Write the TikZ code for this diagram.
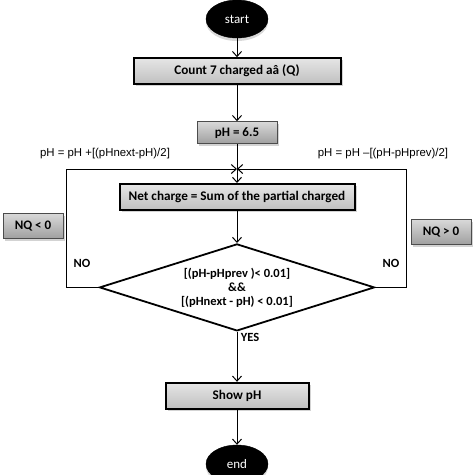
\documentclass[tikz,border=0pt]{standalone}
\usepackage{fontspec}
\setmainfont{Carlito}
\newfontfamily\arialfont{Liberation Sans}
\usetikzlibrary{shapes,arrows,arrows.meta,positioning,calc,shadows}

\begin{document}
\begin{tikzpicture}[
        x=1pt, y=-1pt,
        node distance=20pt,
        term/.style={draw=black, ellipse, fill=black, text=white, minimum width=62pt, minimum height=38pt, inner sep=0pt, font=\fontsize{13}{15}\selectfont, drop shadow={opacity=0.3, shadow xshift=0pt, shadow yshift=-3pt}},
        procbox/.style={draw=black, line width=2pt, top color=gray!20, bottom color=gray!50, minimum height=26pt, inner sep=0pt, font=\bfseries\fontsize{13.2}{15}\selectfont, drop shadow={opacity=0.35, shadow xshift=2pt, shadow yshift=-2pt}},
        valbox/.style={draw=black!70, line width=0.8pt, top color=gray!30, bottom color=gray!75, minimum height=22pt, inner sep=0pt, font=\bfseries\fontsize{13}{15}\selectfont, drop shadow={opacity=0.35, shadow xshift=2pt, shadow yshift=-2pt}},
        test/.style={draw, diamond, aspect=3.2, line width=1.8pt, fill=white, minimum width=275pt, minimum height=87pt, inner sep=0pt, align=center, font=\bfseries\fontsize{12.5}{14}\selectfont},
        update/.style={font=\arialfont\fontsize{11.4}{13}\selectfont},
        flag/.style={font=\bfseries\fontsize{12.5}{14}\selectfont},
        arrow/.style={draw, line width=1pt, ->, >={Straight Barb[length=5pt,width=9pt]}}
    ]
        \useasboundingbox (0,0) rectangle (474,475);

        % Main column
        \node (start) [term] at (237,19) {start};
        \node (count) [procbox, minimum width=207pt, below=19pt of start] {Count 7 charged aâ (Q)};
        \node (ph) [valbox, minimum width=80pt, below=36pt of count] {pH = 6.5};
        \node (net) [procbox, minimum width=235pt, below=39pt of ph] {Net charge = Sum of the partial charged};
        \node (check) [test, below=32pt of net] {{[}(pH-pHprev )< 0.01{]}\\\&\&\\{[}(pHnext - pH) < 0.01{]}};
        \node (show) [procbox, minimum width=143pt, below=50pt of check] {Show pH};
        \node (end) [term, below=35pt of show] {end};

        % Side conditions
        \node (nqneg) [valbox, minimum width=60pt, minimum height=25pt] at (33,226) {NQ < 0};
        \node (nqpos) [valbox, minimum width=60pt, minimum height=25pt] at (441,232) {NQ > 0};

        % Update rules and branch labels
        \coordinate (merge) at ($(ph.south)+(0,25)$);
        \node (incr) [update] at (105,154) {pH = pH +[(pHnext-pH)/2]};
        \node (decr) [update] at (383,154) {pH = pH –[(pH-pHprev)/2]};
        \node (noleft) [flag] at (82,263) {NO};
        \node (noright) [flag] at (391,263) {NO};
        \node (yes) [flag] at (250,337) {YES};

        % Connections
        \draw [arrow] (start.south) -- (count.north);
        \draw [arrow] (count.south) -- (ph.north);
        \draw [arrow] (ph.south) -- (net.north);
        \draw [arrow] (net.south) -- (check.north);
        \draw [arrow] (check.west) -- ++(-32,0) |- (merge);
        \draw [arrow] (check.east) -- ++(31,0) |- (merge);
        \draw [arrow] (check.south) -- (show.north);
        \draw [arrow] (show.south) -- (end.north);

    \end{tikzpicture}
\end{document}
